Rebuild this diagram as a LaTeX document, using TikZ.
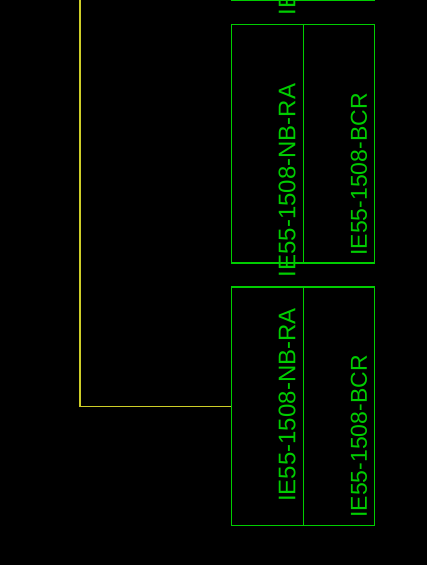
\documentclass[tikz,border=0pt]{standalone}
\usepackage{fontspec}
\setmainfont{Liberation Sans}
\definecolor{cadgreen}{RGB}{0,205,0}
\definecolor{cadyellow}{RGB}{205,205,40}

\begin{document}
\begin{tikzpicture}[x=1pt,y=-1pt,
   cell/.style={draw=cadgreen,line width=1.3pt,minimum width=71.6pt,minimum height=238.3pt,inner sep=0pt},
   tag/.style={text=cadgreen,rotate=90,inner sep=0pt,font=\fontsize{24}{24}\selectfont},
   wire/.style={draw=cadyellow,line width=1.3pt}]
   \fill[black] (0,0) rectangle (427,565);
   \useasboundingbox (0,0) rectangle (427,565);
   \begin{scope}
   \clip (0,0) rectangle (427,565);
   % top block, mostly off the sheet
   \node[cell] (nb0)  at (267.4,-118.7) {};
   \node[cell] (bcr0) at (339.0,-118.7) {};
   \node[tag]  (nb0t) at (287,-81.5) {IE55-1508-NB-RA};
   % middle block
   \node[cell] (nb1)  at (267.4,143.8) {};
   \node[cell] (bcr1) at (339.0,143.8) {};
   \node[tag]  (nb1t)  at (287,180.5) {IE55-1508-NB-RA};
   \node[tag]  (bcr1t) at (359,174.5) {\fontsize{23}{23}\selectfont IE55-1508-BCR};
   % lower block
   \node[cell] (nb2)  at (267.4,406.2) {};
   \node[cell] (bcr2) at (339.0,406.2) {};
   \node[tag]  (nb2t)  at (287,405) {IE55-1508-NB-RA};
   \node[tag]  (bcr2t) at (359,436.5) {\fontsize{23}{23}\selectfont IE55-1508-BCR};
   % feed
   \coordinate (feed) at (80,0);
   \draw[wire] (feed) |- (nb2.west);
   \end{scope}
\end{tikzpicture}
\end{document}
